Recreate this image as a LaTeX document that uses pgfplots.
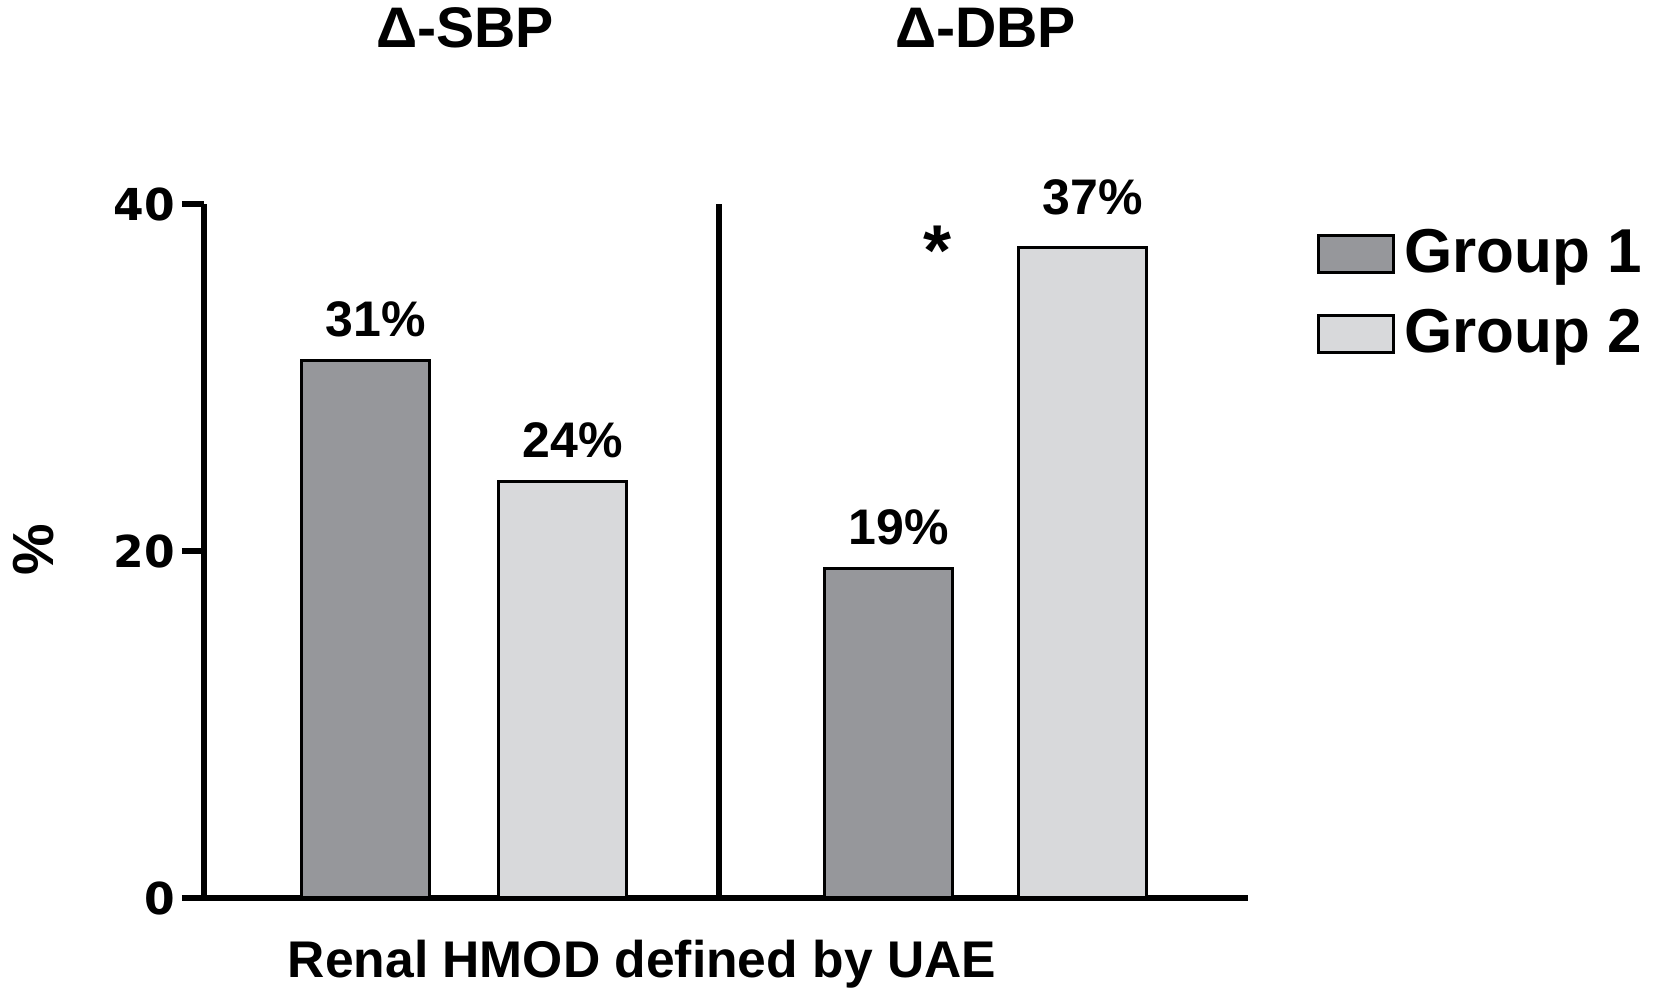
\documentclass[border=0pt]{standalone}
\usepackage{fontspec}
\setmainfont{Liberation Sans}
\newfontfamily\tickfont{DejaVu Sans}
\usepackage{pgfplots}
\pgfplotsset{compat=1.18}
\definecolor{gA}{RGB}{150,151,155}
\definecolor{gB}{RGB}{216,217,219}
\begin{document}
\begin{tikzpicture}
\useasboundingbox (-51pt,-23.75pt) rectangle (363.5pt,224.5pt);
\begin{axis}[
  at={(0,0)}, anchor=south west,
  scale only axis, width=261pt, height=173.5pt,
  xmin=0, xmax=1044, ymin=0, ymax=40,
  axis x line=bottom, axis y line=left,
  axis line style={line width=1.6pt, -},
  xtick=\empty, ytick={0,20,40},
  major tick style={line width=1.6pt, black},
  major tick length=5.5pt, tick align=outside,
  /pgf/number format/assume math mode=true,
  yticklabel style={font=\tickfont\bfseries\fontsize{11}{13}\selectfont, inner sep=1.5pt},
  clip=false,
  bar width=128,
  nodes near coords, point meta=explicit symbolic,
  every node near coord/.append style={font=\bfseries\fontsize{12.5}{14}\selectfont, anchor=base, yshift=6pt, xshift=2.5pt},
  legend style={at={(axis cs:1112,38.6)}, anchor=north west, draw=none, fill=none,
    inner sep=0pt, row sep=7.8pt, font=\bfseries\fontsize{15.5}{18}\selectfont,
    nodes={inner sep=0pt}, /tikz/every odd column/.style={column sep=2.3pt}},
  legend cell align=left,
]
\addplot[ybar, bar shift=0pt, fill=gA, draw=black, line width=0.75pt,
  legend image code/.code={\draw[fill=gA, draw=black, line width=0.75pt] (0pt,-4.6pt) rectangle (18.75pt,4.6pt);}]
  coordinates {(162,31) [31\%] (684.5,19) [19\%]};
\addlegendentry{Group 1}
\addplot[ybar, bar shift=0pt, fill=gB, draw=black, line width=0.75pt,
  legend image code/.code={\draw[fill=gB, draw=black, line width=0.75pt] (0pt,-4.6pt) rectangle (18.75pt,4.6pt);}]
  coordinates {(358.5,24) [24\%]};
\addlegendentry{Group 2}
\addplot[ybar, bar shift=0pt, fill=gB, draw=black, line width=0.75pt, forget plot,
  every node near coord/.append style={yshift=2.2pt}]
  coordinates {(878.5,37.5) [37\%]};
\draw[line width=1.4pt] (axis cs:515,0) -- (axis cs:515,40);
\node[font=\bfseries\fontsize{14.3}{16}\selectfont, anchor=base] at (axis cs:261,49.0) {Δ-SBP};
\node[font=\bfseries\fontsize{14.3}{16}\selectfont, anchor=base] at (axis cs:781.5,49.0) {Δ-DBP};
\node[font=\bfseries\fontsize{18}{20}\selectfont] at (axis cs:734,37.3) {*};
\node[font=\bfseries\fontsize{12.9}{15}\selectfont, anchor=base] at (axis cs:438,-4.61) {Renal HMOD defined by UAE};
\node[font=\bfseries\fontsize{14.5}{16}\selectfont, rotate=90] at (axis cs:-170,20.06) {\%};
\end{axis}
\end{tikzpicture}
\end{document}
